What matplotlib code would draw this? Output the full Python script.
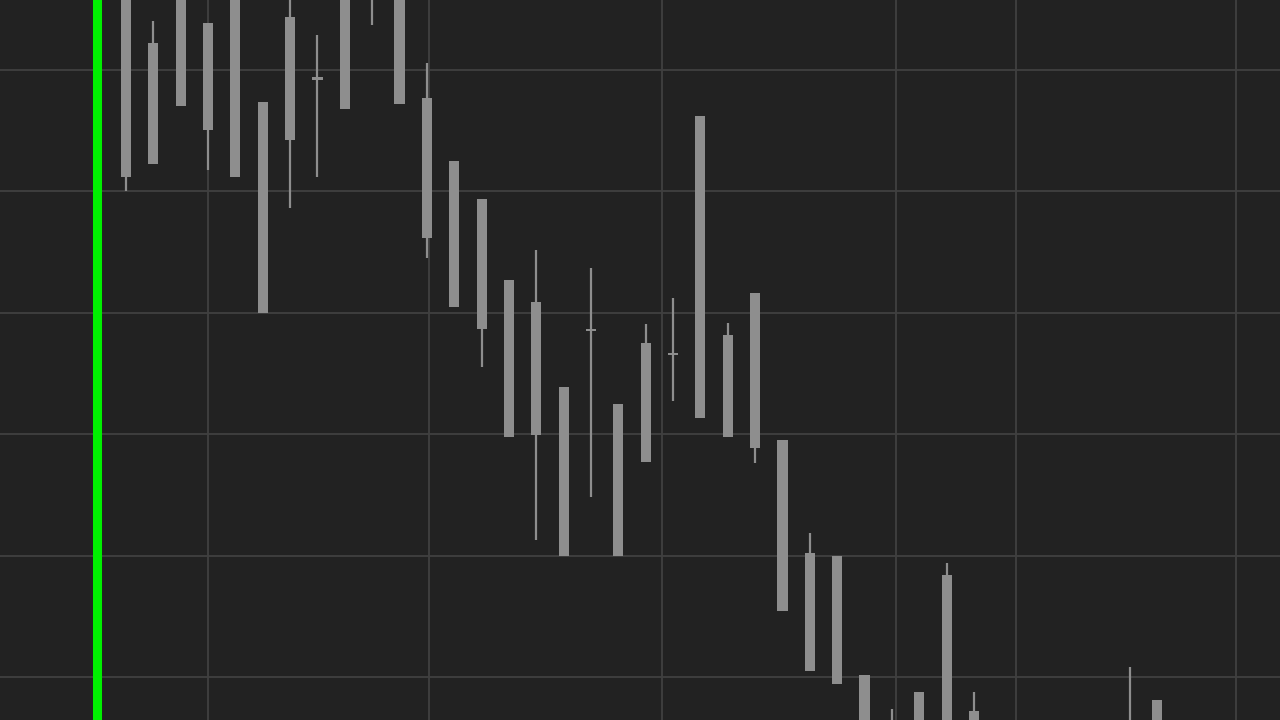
import matplotlib
matplotlib.use("Agg")
import matplotlib.pyplot as plt
import numpy as np

slots = [0, 1, 2, 3, 4, 5, 6, 7, 8, 9, 10, 11, 12, 13, 14, 15, 16, 17, 18, 19,
         20, 21, 22, 23, 24, 25, 26, 27, 28, 29, 30, 31, 36.7, 37.7]
opens = [158.0, 152.2, 158.0, 153.9, 158.0, 147.4, 154.4, 149.4, 158.0, 160.0,
         158.0, 147.7, 142.5, 139.4, 132.7, 130.9, 123.9, 128.7, 122.5, 127.5,
         126.7, 146.2, 128.2, 131.6, 119.5, 110.2, 110.0, 100.2, 96.0, 98.8,
         108.4, 97.2, 95.5, 98.1]
highs = [158.5, 154.0, 158.5, 153.9, 158.5, 147.4, 158.5, 152.9, 158.5, 161.0,
         158.5, 150.6, 142.5, 139.4, 132.7, 135.2, 123.9, 133.7, 122.5, 129.1,
         131.2, 146.2, 129.2, 131.6, 119.5, 111.9, 110.0, 100.2, 97.4, 98.8,
         109.4, 98.8, 100.8, 98.1]
lows = [140.0, 142.3, 147.0, 141.8, 141.2, 130.0, 138.6, 141.2, 146.8, 153.7,
        147.2, 134.5, 130.5, 125.5, 119.8, 111.3, 110.0, 114.8, 110.0, 117.7,
        122.7, 121.3, 119.8, 117.6, 105.4, 100.5, 99.4, 93.0, 93.0, 93.0,
        93.0, 93.0, 93.0, 93.0]
closes = [141.2, 142.3, 147.0, 145.1, 141.2, 130.0, 144.2, 149.2, 146.8, 157.0,
          147.2, 136.2, 130.5, 128.7, 119.8, 119.9, 110.0, 128.5, 110.0, 117.7,
          126.5, 121.3, 119.8, 118.9, 105.4, 100.5, 99.4, 93.0, 94.0, 93.0,
          93.0, 93.0, 94.0, 93.0]

price_levels = [100, 110, 120, 130, 140, 150]
time_grid = [3.0, 11.08, 19.6, 28.15, 32.54, 40.58]
marker_slot = -1.06

bg = '#222222'
candle_col = '#8e8e8e'

fig = plt.figure(figsize=(12.8, 7.2), dpi=100, facecolor=bg)
ax = fig.add_axes([0, 0, 1, 1])
ax.set_facecolor(bg)

o = np.array(opens)
c = np.array(closes)
x = np.array(slots)

ax.vlines(x, lows, highs, color=candle_col, linewidth=1.6, zorder=3)
body_h = np.maximum(np.abs(o - c), 0.15)
ax.bar(x, body_h, bottom=np.minimum(o, c), width=0.37, color=candle_col,
       linewidth=0, zorder=3)

ax.axvline(marker_slot, color='#00f000', linewidth=6.5, zorder=4)

ax.set_xlim(-4.607, 42.19)
ax.set_ylim(96.46, 155.77)
ax.set_xticks(time_grid)
ax.set_yticks(price_levels)
ax.grid(True, color='#404040', linewidth=1.3, zorder=0)
ax.tick_params(length=0, labelbottom=False, labelleft=False)
for s in ax.spines.values():
    s.set_visible(False)

fig.savefig('out.png', dpi=100, facecolor=bg)
